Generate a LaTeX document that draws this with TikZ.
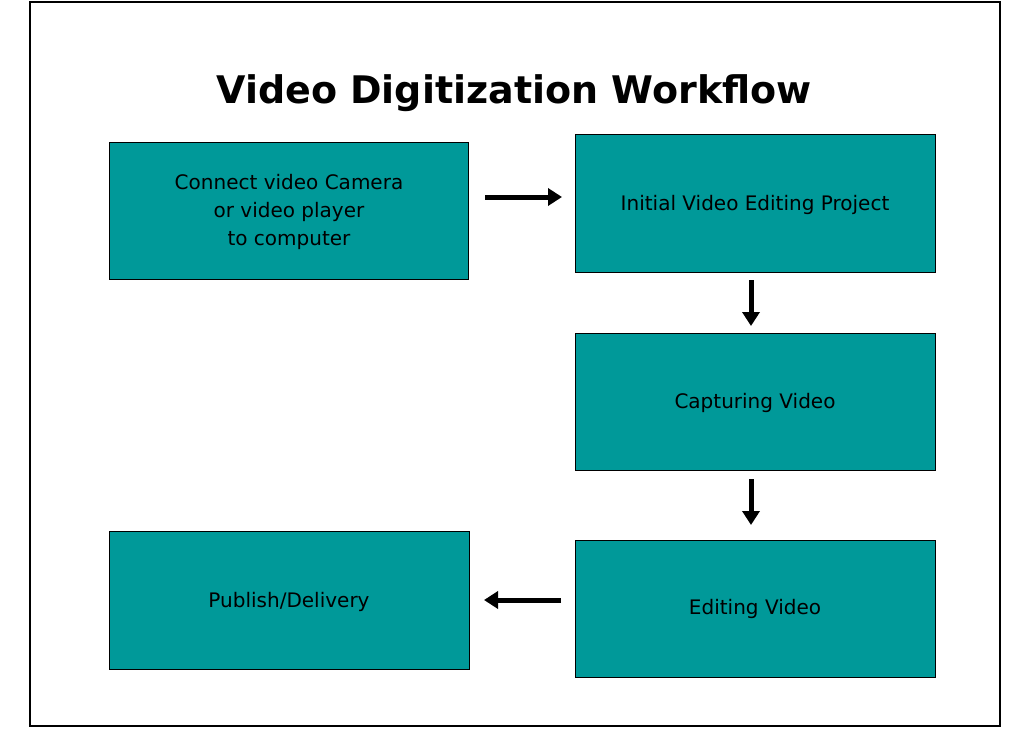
\documentclass[tikz,border=0pt]{standalone}
\usepackage{fontspec}
\setmainfont{DejaVu Sans}
\usetikzlibrary{arrows.meta}
\definecolor{teal1}{RGB}{0,153,153}
\begin{document}
\begin{tikzpicture}[x=1pt,y=-1pt,
  box/.style={draw=black,line width=1pt,fill=teal1},
  lbl/.style={font=\fontsize{20}{28}\selectfont,align=center,text=black},
  arr/.style={line width=5pt,-{Triangle[length=14pt,width=17pt]}}]
\useasboundingbox (0,0) rectangle (1030,728);
\draw[line width=1.2pt] (30,2) rectangle (1000,726);
\node[font=\fontsize{38}{44}\bfseries\selectfont] (title) at (514,93) {Video Digitization Workflow};
\draw[box] (109,142) rectangle (468,279);
\draw[box] (575,134) rectangle (935,272);
\draw[box] (575,333) rectangle (935,470);
\draw[box] (575,540) rectangle (935,677);
\draw[box] (109,531) rectangle (469,669);
\node[lbl] (a) at (289,212) {Connect video Camera\\or video player\\to computer};
\node[lbl] (b) at (755,205) {Initial Video Editing Project};
\node[lbl] (c) at (755,403) {Capturing Video};
\node[lbl] (d) at (755,609) {Editing Video};
\node[lbl] (e) at (289,602) {Publish/Delivery};
\coordinate (a1) at (485,197); \coordinate (a2) at (562,197);
\coordinate (b1) at (751,280); \coordinate (b2) at (751,326);
\coordinate (c1) at (751,479); \coordinate (c2) at (751,525);
\coordinate (d1) at (561,600); \coordinate (d2) at (484,600);
\draw[arr] (a1) -- (a2);
\draw[arr] (b1) -- (b2);
\draw[arr] (c1) -- (c2);
\draw[arr] (d1) -- (d2);
\end{tikzpicture}
\end{document}
